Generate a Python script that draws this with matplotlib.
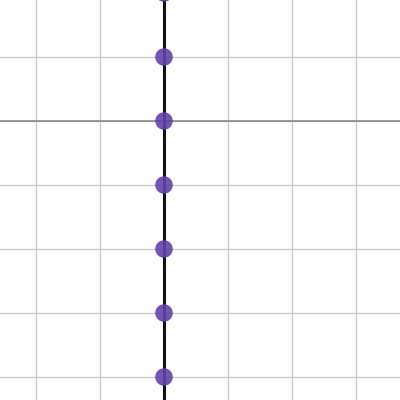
import matplotlib
matplotlib.use("Agg")
import matplotlib.pyplot as plt

line_x = 5
point_x = [5, 5, 5, 5, 5, 5, 5]
point_y = [2, 1, 0, -1, -2, -3, -4]

fig = plt.figure(figsize=(4, 4), dpi=100)
ax = fig.add_axes([0, 0, 1, 1])
ax.set_xlim(5 - 164/64, 5 + 236/64)
ax.set_ylim(-279/64, 121/64)
for gx in range(2, 10):
    ax.axvline(gx, color="#cccccc", lw=1, zorder=0)
for gy in range(-5, 3):
    ax.axhline(gy, color="#cccccc", lw=1, zorder=0)
ax.axhline(0, color="#888888", lw=1.2, zorder=1)
ax.axvline(line_x, color="#111111", lw=2.2, zorder=2)
ax.scatter(point_x, point_y, s=160, color="#6042a6", alpha=0.9, zorder=3, edgecolors="none")
ax.set_xticks([]); ax.set_yticks([])
for s in ax.spines.values():
    s.set_visible(False)
fig.savefig("out.png", dpi=100)
